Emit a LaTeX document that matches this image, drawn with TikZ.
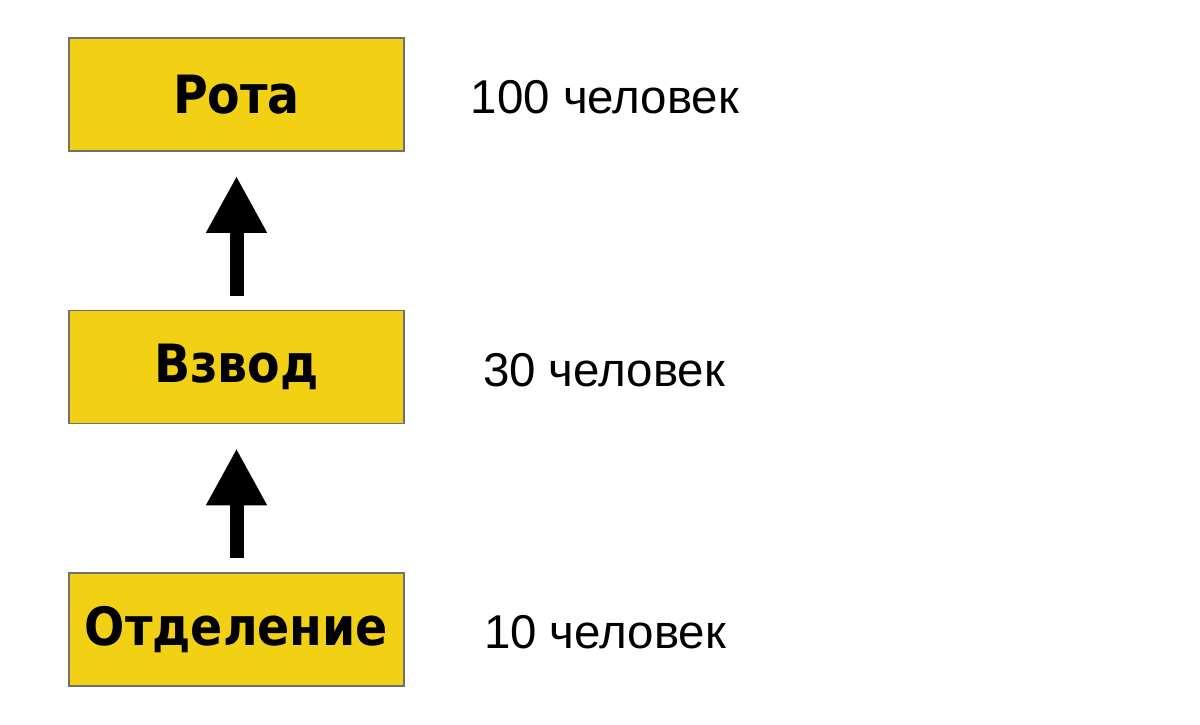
\documentclass[tikz,border=0pt]{standalone}
\usepackage{fontspec}
\setmainfont{Liberation Sans}
\newfontfamily\boxfont{DejaVu Sans Condensed}
\usetikzlibrary{arrows.meta}
\definecolor{UnitYellow}{HTML}{F2D114}
\definecolor{UnitBorder}{HTML}{707070}
\tikzset{
  unit/.style={draw=UnitBorder, fill=UnitYellow, line width=1pt,
    minimum width=6.7cm, minimum height=2.26cm,
    font=\boxfont\bfseries\fontsize{30}{34}\selectfont},
  count/.style={font=\fontsize{27}{30}\selectfont},
  up/.style={line width=0.28cm, -{Triangle[width=1.14cm,length=1.14cm]},
    shorten <=0.28cm, shorten >=0.48cm}
}
\begin{document}
\begin{tikzpicture}
  \useasboundingbox (0,0) rectangle (24,14.5);

  \node[unit] (rota)   at (4.73,12.61) {Рота};
  \node[unit] (vzvod)  at (4.73,7.16)  {Взвод};
  \node[unit] (otdel)  at (4.73,1.91)  {Отделение};

  \node[count] (nrota)  at (12.1,12.56) {100 человек};
  \node[count] (nvzvod) at (12.08,7.1)  {30 человек};
  \node[count] (notdel) at (12.1,1.86)  {10 человек};

  \draw[up] (vzvod.north) -- (rota.south);
  \draw[up] (otdel.north) -- (vzvod.south);

\end{tikzpicture}
\end{document}
